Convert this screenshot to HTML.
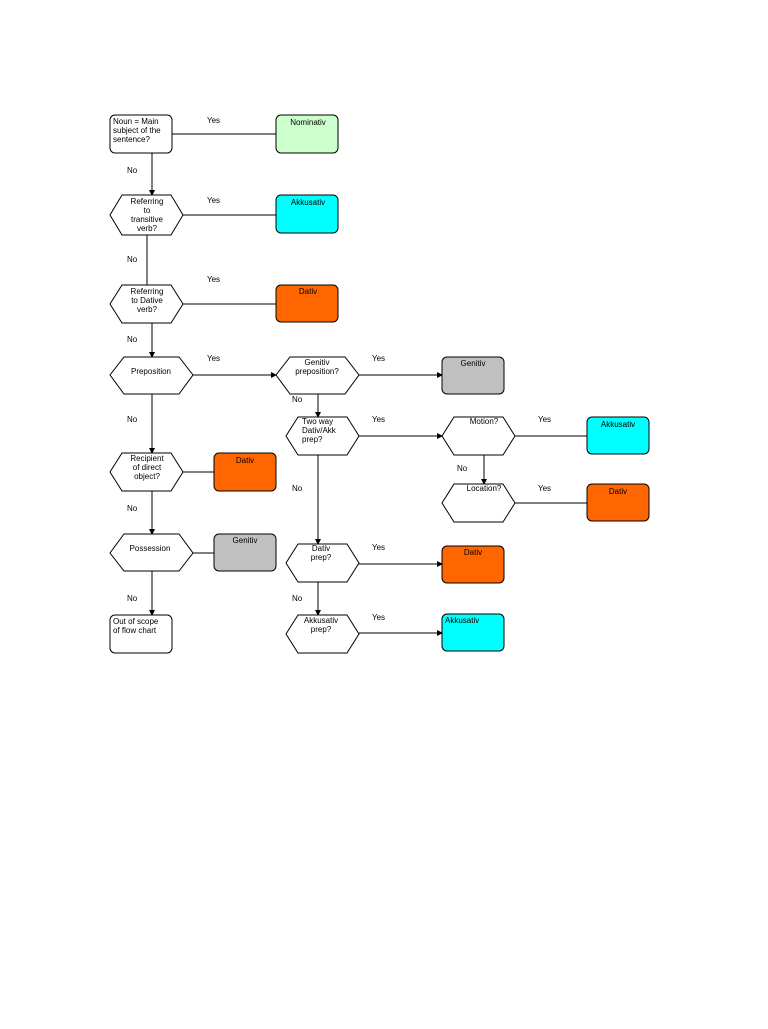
<!DOCTYPE html>
<html><head><style>body{margin:0;background:#fff}svg text{font-family:"Liberation Sans",sans-serif;font-size:8px;fill:#000}</style></head>
<body>
<svg width="768" height="1024" viewBox="0 0 768 1024" xmlns="http://www.w3.org/2000/svg">
<defs><marker id="a" markerWidth="6" markerHeight="6" refX="5" refY="3" orient="auto"><path d="M0,0L6,3L0,6z" fill="#000"/></marker></defs>
<g stroke="#000" stroke-width="1" fill="none">
<line x1="172" y1="134" x2="276" y2="134"/>
<line x1="183" y1="215" x2="276" y2="215"/>
<line x1="183" y1="304" x2="276" y2="304"/>
<line x1="193" y1="375" x2="276" y2="375" marker-end="url(#a)"/>
<line x1="359" y1="375" x2="442" y2="375" marker-end="url(#a)"/>
<line x1="359" y1="436" x2="442" y2="436" marker-end="url(#a)"/>
<line x1="515" y1="436" x2="587" y2="436"/>
<line x1="515" y1="503" x2="587" y2="503"/>
<line x1="183" y1="472" x2="214" y2="472"/>
<line x1="193" y1="553" x2="214" y2="553"/>
<line x1="359" y1="564" x2="442" y2="564" marker-end="url(#a)"/>
<line x1="359" y1="633" x2="442" y2="633" marker-end="url(#a)"/>
<line x1="152" y1="153" x2="152" y2="195" marker-end="url(#a)"/>
<line x1="147" y1="235" x2="147" y2="285"/>
<line x1="152" y1="323" x2="152" y2="357" marker-end="url(#a)"/>
<line x1="152" y1="394" x2="152" y2="453" marker-end="url(#a)"/>
<line x1="152" y1="491" x2="152" y2="534" marker-end="url(#a)"/>
<line x1="152" y1="571" x2="152" y2="615" marker-end="url(#a)"/>
<line x1="318" y1="394" x2="318" y2="417" marker-end="url(#a)"/>
<line x1="318" y1="455" x2="318" y2="544" marker-end="url(#a)"/>
<line x1="318" y1="582" x2="318" y2="615" marker-end="url(#a)"/>
<line x1="484" y1="455" x2="484" y2="484" marker-end="url(#a)"/>
</g>
<g stroke="#000" stroke-width="1">
<rect x="110" y="115" width="62" height="38" rx="5" fill="#fff"/>
<rect x="276" y="115" width="62" height="38" rx="5" fill="#ccffcc"/>
<rect x="276" y="195" width="62" height="38" rx="5" fill="#00ffff"/>
<rect x="276" y="285" width="62" height="37" rx="5" fill="#ff6600"/>
<rect x="442" y="357" width="62" height="37" rx="5" fill="#c0c0c0"/>
<rect x="587" y="417" width="62" height="37" rx="5" fill="#00ffff"/>
<rect x="587" y="484" width="62" height="37" rx="5" fill="#ff6600"/>
<rect x="214" y="453" width="62" height="38" rx="5" fill="#ff6600"/>
<rect x="214" y="534" width="62" height="37" rx="5" fill="#c0c0c0"/>
<rect x="110" y="615" width="62" height="38" rx="5" fill="#fff"/>
<rect x="442" y="546" width="62" height="37" rx="5" fill="#ff6600"/>
<rect x="442" y="614" width="62" height="37" rx="5" fill="#00ffff"/>
<g fill="#fff">
<polygon points="122,195 171,195 183,215 171,235 122,235 110,215"/>
<polygon points="122,285 171,285 183,304 171,323 122,323 110,304"/>
<polygon points="124,357 179,357 193,375 179,394 124,394 110,375"/>
<polygon points="290,357 345,357 359,375 345,394 290,394 276,375"/>
<polygon points="298,417 347,417 359,436 347,455 298,455 286,436"/>
<polygon points="454,417 503,417 515,436 503,455 454,455 442,436"/>
<polygon points="454,484 503,484 515,503 503,522 454,522 442,503"/>
<polygon points="122,453 171,453 183,472 171,491 122,491 110,472"/>
<polygon points="124,534 179,534 193,553 179,571 124,571 110,553"/>
<polygon points="298,544 347,544 359,563 347,582 298,582 286,563"/>
<polygon points="298,615 347,615 359,634 347,653 298,653 286,634"/>
</g></g>
<g text-anchor="middle">
<text x="308" y="125">Nominativ</text>
<text x="308" y="205">Akkusativ</text>
<text x="308" y="294">Dativ</text>
<text x="473" y="366">Genitiv</text>
<text x="618" y="427">Akkusativ</text>
<text x="618" y="494">Dativ</text>
<text x="245" y="463">Dativ</text>
<text x="245" y="543">Genitiv</text>
<text x="473" y="555">Dativ</text>
<text x="147" y="204">Referring</text><text x="147" y="213">to</text><text x="147" y="222">transitive</text><text x="147" y="231">verb?</text>
<text x="147" y="294">Referring</text><text x="147" y="303">to Dative</text><text x="147" y="312">verb?</text>
<text x="151" y="374">Preposition</text>
<text x="317" y="365">Genitiv</text><text x="317" y="374">preposition?</text>
<text x="484" y="424">Motion?</text>
<text x="484" y="491">Location?</text>
<text x="147" y="461">Recipient</text><text x="147" y="470">of direct</text><text x="147" y="479">object?</text>
<text x="150" y="551">Possession</text>
<text x="321" y="551">Dativ</text><text x="321" y="560">prep?</text>
<text x="321" y="623">Akkusativ</text><text x="321" y="632">prep?</text>
</g>
<text x="113" y="124">Noun = Main</text><text x="113" y="133">subject of the</text><text x="113" y="142">sentence?</text>
<text x="113" y="624">Out of scope</text><text x="113" y="633">of flow chart</text>
<text x="302" y="424">Two way</text><text x="302" y="433">Dativ/Akk</text><text x="302" y="442">prep?</text>
<text x="445" y="623">Akkusativ</text>
<g>
<text x="207" y="123">Yes</text><text x="207" y="203">Yes</text><text x="207" y="282">Yes</text><text x="207" y="361">Yes</text>
<text x="372" y="361">Yes</text><text x="372" y="422">Yes</text><text x="538" y="422">Yes</text><text x="538" y="491">Yes</text>
<text x="372" y="550">Yes</text><text x="372" y="620">Yes</text>
<text x="127" y="173">No</text><text x="127" y="262">No</text><text x="127" y="342">No</text><text x="127" y="422">No</text>
<text x="127" y="511">No</text><text x="127" y="601">No</text><text x="292" y="402">No</text><text x="292" y="491">No</text>
<text x="292" y="601">No</text><text x="457" y="471">No</text>
</g>
</svg>
</body></html>
